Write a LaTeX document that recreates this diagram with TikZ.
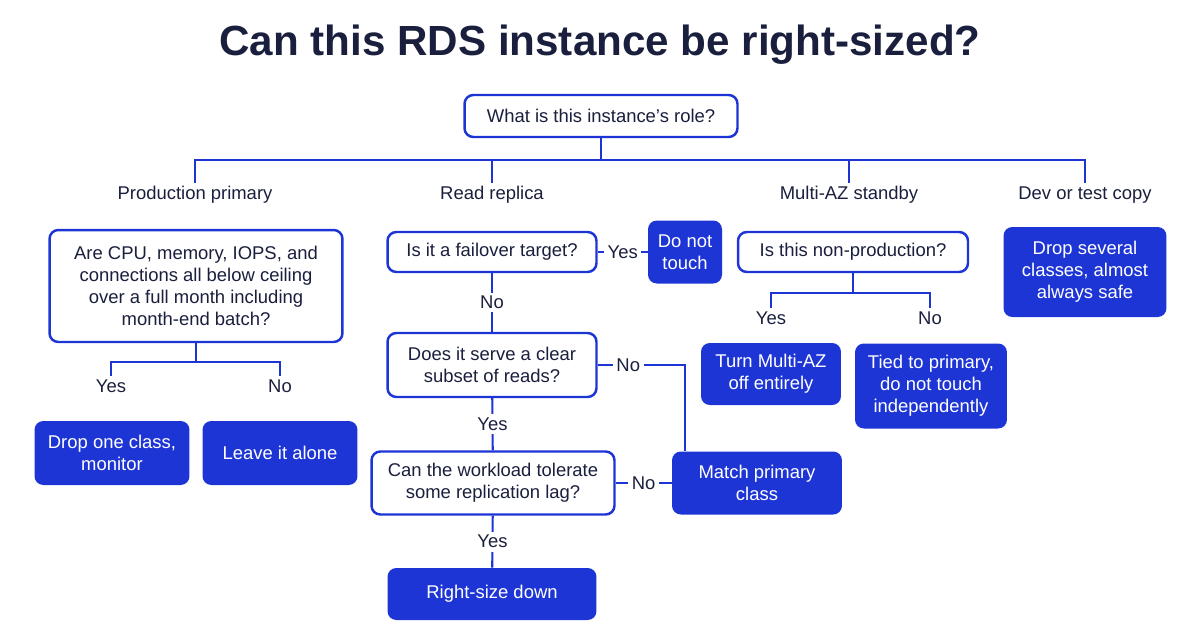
\documentclass[tikz,border=0pt]{standalone}
\usepackage{fontspec}
\setmainfont{Liberation Sans}
\usetikzlibrary{positioning}
\definecolor{navy}{HTML}{1A1F3D}
\definecolor{rdsblue}{HTML}{1E35D6}
\tikzset{
	box/.style = {align=center, inner sep=0pt, rounded corners=5pt, font=\fontsize{10.5}{12.5}\selectfont},
	question/.style = {box, draw=rdsblue, line width=1.4pt, fill=white, text=navy},
	answer/.style = {box, fill=rdsblue, text=white},
	branch/.style = {font=\fontsize{10.5}{12.5}\selectfont, text=navy, inner sep=2pt},
	edge/.style = {fill=white, font=\fontsize{10.5}{12.5}\selectfont, text=navy, inner sep=2pt},
	link/.style = {draw=rdsblue, line width=1.2pt}
}
\begin{document}
\begin{tikzpicture}[x=0.02cm, y=-0.02cm]
		\useasboundingbox (0,0) rectangle (1200,630);
		\node [text=navy, font=\fontsize{24}{28}\selectfont\bfseries] (title) at (600,45) {Can this RDS instance be right-sized?};
		% root and branches
		\node [question, minimum width=5.46cm, minimum height=0.84cm] (role) at (601,116) {What is this instance's role?};
		\node [branch] (prod) at (195,195) {Production primary};
		\node [branch] (replica) at (492,195) {Read replica};
		\node [branch] (multiaz) at (849,195) {Multi-AZ standby};
		\node [branch] (dev) at (1085,195) {Dev or test copy};
		\draw [link] (role.south) -- (601,160);
		\draw [link] (prod.north) |- (601,160) -| (dev.north);
		\draw [link] (replica.north) -- (492,160);
		\draw [link] (multiaz.north) -- (849,160);
		% production primary
		\node [question, minimum width=5.86cm, minimum height=2.24cm] (ceiling) at (196,286) {Are CPU, memory, IOPS, and\\connections all below ceiling\\over a full month including\\month-end batch?};
		\node [branch] (prodyes) at (111,386) {Yes};
		\node [branch] (prodno) at (280,386) {No};
		\node [answer, minimum width=3.1cm, minimum height=1.28cm] (dropone) at (112,453) {Drop one class,\\monitor};
		\node [answer, minimum width=3.1cm, minimum height=1.28cm] (leave) at (280,453) {Leave it alone};
		\draw [link] (ceiling.south) -- (196,362);
		\draw [link] (prodyes.north) |- (196,362) -| (prodno.north);
		% read replica
		\node [question, minimum width=4.18cm, minimum height=0.8cm] (failover) at (492,252) {Is it a failover target?};
		\node [answer, minimum width=1.48cm, minimum height=1.26cm] (notouch) at (685,252) {Do not\\touch};
		\node [question, minimum width=4.18cm, minimum height=1.28cm] (subset) at (492,365) {Does it serve a clear\\subset of reads?};
		\node [question, minimum width=4.86cm, minimum height=1.26cm] (lag) at (493,483) {Can the workload tolerate\\some replication lag?};
		\node [answer, minimum width=3.4cm, minimum height=1.26cm] (match) at (757,483) {Match primary\\class};
		\node [answer, minimum width=4.18cm, minimum height=1.04cm] (rightsize) at (492,594) {Right-size down};
		\coordinate (bend) at (685,365);
		\draw [link] (failover) -- node [edge] {Yes} (notouch);
		\draw [link] (failover) -- node [edge] {No} (subset);
		\draw [link] (subset.east) -- node [edge, pos=0.35] {No} (bend) -- (match.north -| bend);
		\draw [link] (subset) -- node [edge] {Yes} (lag);
		\draw [link] (lag) -- node [edge] {No} (match);
		\draw [link] (lag) -- node [edge] {Yes} (rightsize);
		% multi-az standby
		\node [question, minimum width=4.6cm, minimum height=0.8cm] (nonprod) at (853,252) {Is this non-production?};
		\node [branch] (azyes) at (771,318) {Yes};
		\node [branch] (azno) at (930,318) {No};
		\node [answer, minimum width=2.8cm, minimum height=1.24cm] (turnoff) at (771,374) {Turn Multi-AZ\\off entirely};
		\node [answer, minimum width=3.04cm, minimum height=1.7cm] (tied) at (931,386) {Tied to primary,\\do not touch\\independently};
		\draw [link] (nonprod.south) -- (853,293);
		\draw [link] (azyes.north) |- (853,293) -| (azno.north);
		% dev or test copy
		\node [answer, minimum width=3.26cm, minimum height=1.8cm] (several) at (1085,272) {Drop several\\classes, almost\\always safe};
\end{tikzpicture}
\end{document}
